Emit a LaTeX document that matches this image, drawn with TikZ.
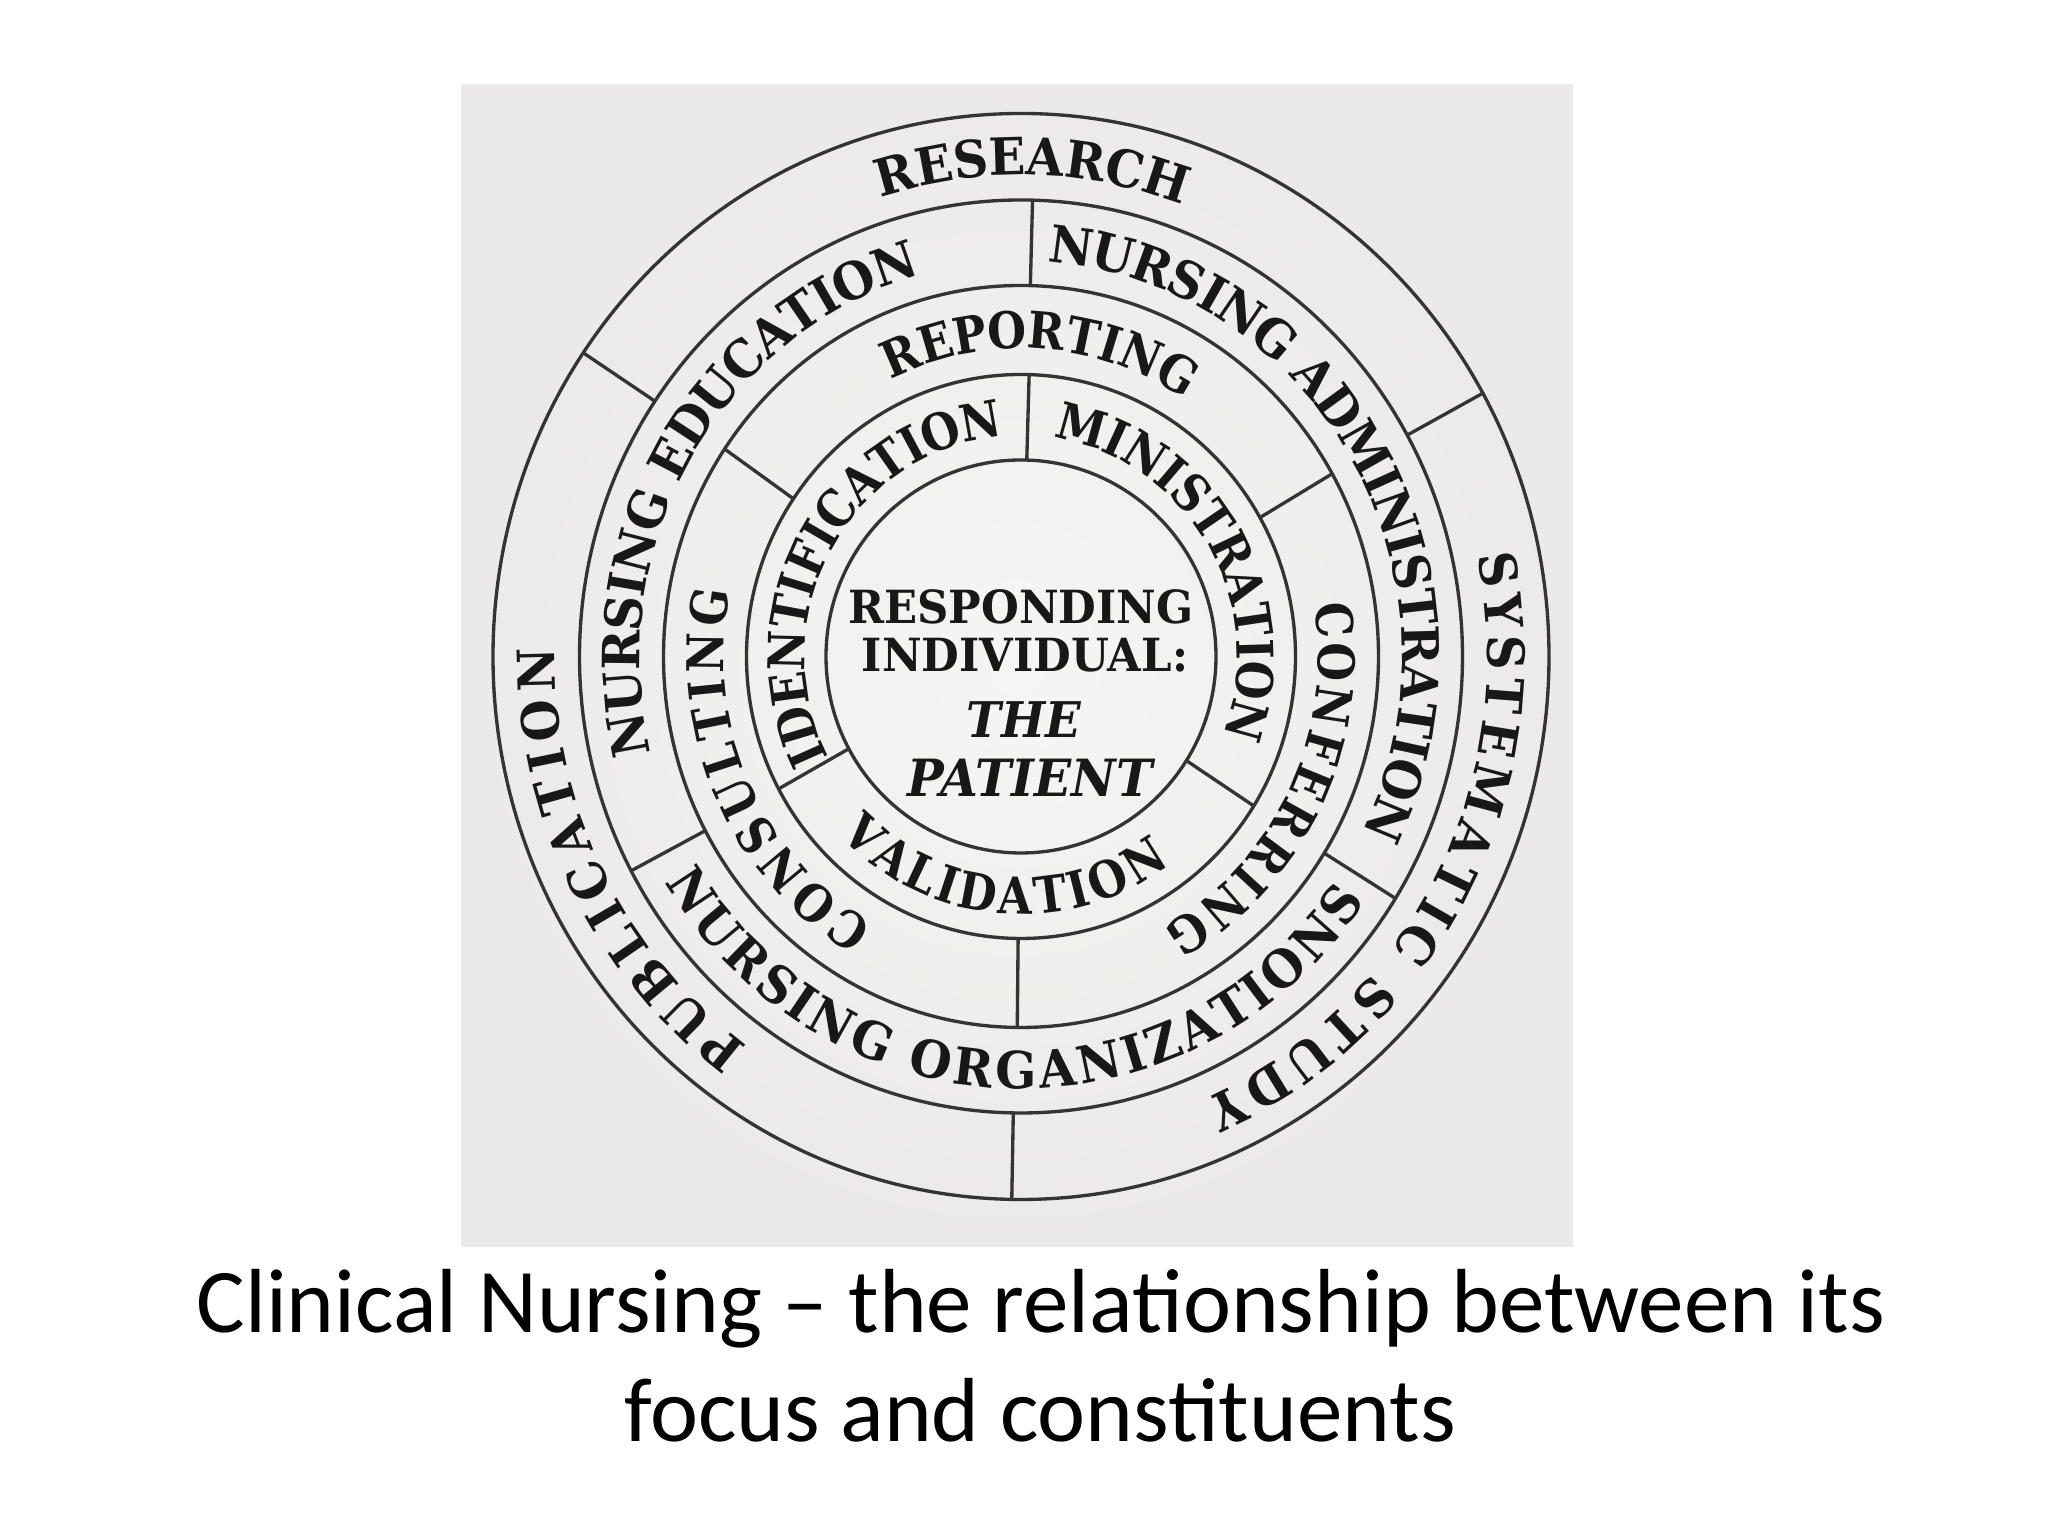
\documentclass[tikz,border=0pt]{standalone}
\usepackage{fontspec}
\usetikzlibrary{decorations.text,calc}
\newfontfamily\ringfam{DejaVu Serif}[FakeStretch=0.88]
\newfontfamily\ringwidefam{DejaVu Serif}[FakeStretch=0.94]
\newfontfamily\centfam{DejaVu Serif}[FakeStretch=0.95]
\newfontfamily\capfam{Carlito}
\definecolor{linec}{RGB}{52,52,52}
\definecolor{inkc}{RGB}{24,24,24}
\definecolor{photobg}{RGB}{235,233,234}
\definecolor{discbg}{RGB}{245,246,244}
\newcommand\ringfont{\ringfam\bfseries\fontsize{14.4pt}{17pt}\selectfont}
\newcommand\ringwidefont{\ringwidefam\bfseries\fontsize{14.6pt}{17pt}\selectfont}
\tikzset{
  ringline/.style={draw=linec,line width=0.95pt},
  centretext/.style={anchor=base,text=inkc,inner sep=0pt},
  captext/.style={anchor=base,text=black,inner sep=0pt,font=\capfam\fontsize{25.9pt}{30pt}\selectfont}
}
% #1 rx, #2 ry, #3 start angle, #4 end angle, #5 font, #6 text
\newcommand\arctext[6]{%
  \path[decorate,decoration={text along path,text={|#5|#6},
      text align=fit to path,raise=-0.185cm,text color=inkc}]
    ($(O)+(#3:#1cm and #2cm)$) arc[start angle=#3,end angle=#4,x radius=#1cm,y radius=#2cm];}
% #1 angle, #2 #3 outer radii, #4 #5 inner radii
\newcommand\ringdivider[5]{%
  \draw[ringline] ($(O)+(#1:#2cm and #3cm)$) -- ($(O)+(#1:#4cm and #5cm)$);}
\begin{document}
\begin{tikzpicture}
\useasboundingbox (0,0) rectangle (20.48,15.36);
\fill[white] (0,0) rectangle (20.48,15.36);
\shade[inner color=discbg,outer color=photobg] (4.61,2.89) rectangle (15.73,14.51);
\coordinate (O) at (10.21,8.795);
% rings
\draw[ringline] (O) ellipse[x radius=5.28cm,y radius=5.43cm];
\draw[ringline] (O) ellipse[x radius=4.415cm,y radius=4.565cm];
\draw[ringline] (O) ellipse[x radius=3.575cm,y radius=3.71cm];
\draw[ringline] (O) ellipse[x radius=2.745cm,y radius=2.82cm];
\draw[ringline] (O) ellipse[x radius=1.95cm,y radius=1.965cm];
% dividers
\ringdivider{146}{5.28}{5.43}{4.415}{4.565}
\ringdivider{29}{5.28}{5.43}{4.415}{4.565}
\ringdivider{-91}{5.28}{5.43}{4.415}{4.565}
\ringdivider{88.5}{4.415}{4.565}{3.575}{3.71}
\ringdivider{208}{4.415}{4.565}{3.575}{3.71}
\ringdivider{-32}{4.415}{4.565}{3.575}{3.71}
\ringdivider{146}{3.575}{3.71}{2.745}{2.82}
\ringdivider{29.5}{3.575}{3.71}{2.745}{2.82}
\ringdivider{-90.6}{3.575}{3.71}{2.745}{2.82}
\ringdivider{88.3}{2.745}{2.82}{1.95}{1.965}
\ringdivider{208}{2.745}{2.82}{1.95}{1.965}
\ringdivider{-32}{2.745}{2.82}{1.95}{1.965}
% band A
\arctext{4.8475}{4.9975}{107.4}{69.8}{\ringwidefont}{RESEARCH}
\arctext{4.8475}{4.9975}{12}{-66.7}{\ringwidefont}{SYSTEMATIC STUDY}
\arctext{4.8475}{4.9975}{234}{179}{\ringwidefont}{PUBLICATION}
% band B
\arctext{3.995}{4.1375}{194}{105.4}{\ringwidefont}{NURSING EDUCATION}
\arctext{3.995}{4.1375}{85.9}{-26.3}{\ringwidefont}{NURSING ADMINISTRATION}
\arctext{3.995}{4.1375}{-148.6}{-34.4}{\ringwidefont}{NURSING ORGANIZATIONS}
% band C
\arctext{3.16}{3.265}{115.8}{56.8}{\ringfont}{REPORTING}
\arctext{3.16}{3.265}{240}{168}{\ringfont}{CONSULTING}
\arctext{3.16}{3.265}{9.6}{-61.5}{\ringfont}{CONFERRING}
% band D
\arctext{2.3475}{2.3925}{207}{95}{\ringfont}{IDENTIFICATION}
\arctext{2.3475}{2.3925}{80.8}{-20.6}{\ringfont}{MINISTRATION}
\arctext{2.3475}{2.3925}{-136}{-53.4}{\ringfont}{VALIDATION}
% centre
\node[centretext,font=\centfam\bfseries\fontsize{13pt}{15pt}\selectfont] (resp) at (10.21,9.12) {RESPONDING};
\node[centretext,font=\centfam\bfseries\fontsize{13pt}{15pt}\selectfont] (indiv) at (10.25,8.64) {INDIVIDUAL:};
\node[centretext,font=\centfam\bfseries\itshape\fontsize{14pt}{16pt}\selectfont] (the) at (10.24,7.98) {THE};
\node[centretext,font=\centfam\bfseries\itshape\fontsize{14.6pt}{16pt}\selectfont] (patient) at (10.30,7.39) {PATIENT};
% caption
\node[captext] (cap1) at (10.41,2.03) {Clinical Nursing – the relationship between its};
\node[captext] (cap2) at (10.40,0.94) {focus and constituents};
\end{tikzpicture}
\end{document}
